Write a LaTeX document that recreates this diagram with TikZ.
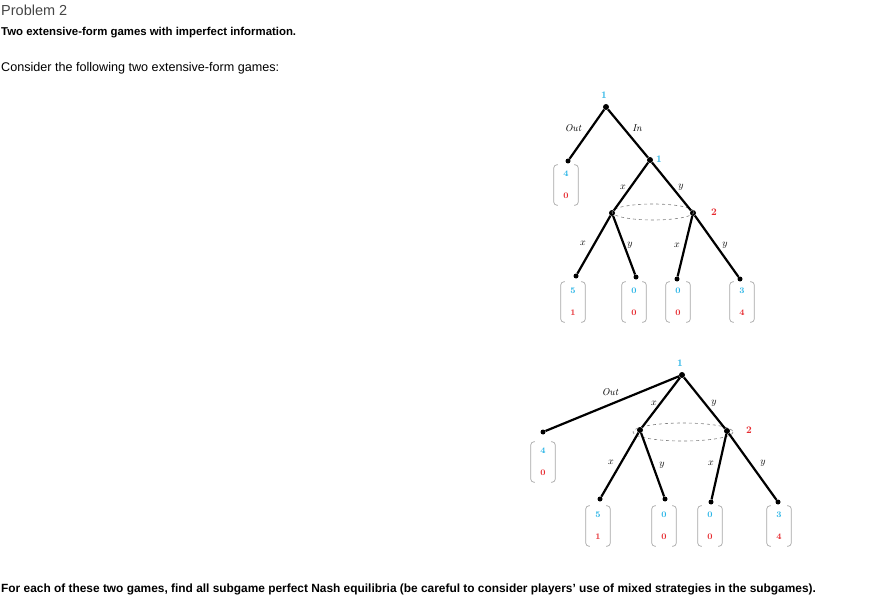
\documentclass[tikz,border=0pt]{standalone}
\usepackage{fontspec}
\setmainfont{Liberation Sans}
\newfontfamily\lmfont{Latin Modern Roman}
\usetikzlibrary{calc}
\definecolor{pone}{RGB}{40,180,230}
\definecolor{ptwo}{RGB}{230,40,45}
\definecolor{txtgray}{RGB}{70,70,70}
\newcommand{\payoff}[4]{%
  \node[minimum width=24pt,minimum height=40pt,inner sep=0pt] (#1) at #2 {};
  \node[text=pone,font=\lmfont\fontsize{8.5}{9}\selectfont\bfseries] at ($(#1)+(0,-11)$) {#3};
  \node[text=ptwo,font=\lmfont\fontsize{8.5}{9}\selectfont\bfseries] at ($(#1)+(0,11)$) {#4};
  \draw[gray!70,rounded corners=3pt,line width=0.7pt] ([xshift=4pt]#1.north west) -- (#1.north west) -- (#1.south west) -- ([xshift=4pt]#1.south west);
  \draw[gray!70,rounded corners=3pt,line width=0.7pt] ([xshift=-4pt]#1.north east) -- (#1.north east) -- (#1.south east) -- ([xshift=-4pt]#1.south east);
}
\tikzset{
  dec/.style={circle,fill=black,inner sep=0pt,minimum size=6pt},
  leaf/.style={circle,fill=black,inner sep=0pt,minimum size=5pt},
  br/.style={line width=2.2pt},
  lab/.style={font=\lmfont\fontsize{10}{11}\selectfont\itshape},
  pl1/.style={text=pone,font=\lmfont\fontsize{10}{11}\selectfont\bfseries},
  pl2/.style={text=ptwo,font=\lmfont\fontsize{10}{11}\selectfont\bfseries},
  info/.style={dashed,gray,line width=0.6pt}
}
\begin{document}
\begin{tikzpicture}[x=1pt,y=-1pt]
\useasboundingbox (0,0) rectangle (869,612);
\node[anchor=west,text=txtgray,font=\fontsize{14.5}{16}\selectfont,inner sep=1pt] (t1) at (0,10) {Problem 2};
\node[anchor=west,font=\fontsize{11.4}{13}\selectfont\bfseries,inner sep=1pt] (t2) at (0,33) {Two extensive-form games with imperfect information.};
\node[anchor=west,font=\fontsize{12.6}{14}\selectfont,inner sep=1pt] (t3) at (0,68) {Consider the following two extensive-form games:};
\node[anchor=west,font=\fontsize{11.9}{14}\selectfont\bfseries,inner sep=1pt] (t4) at (0,589) {For each of these two games, find all subgame perfect Nash equilibria (be careful to consider players' use of mixed strategies in the subgames).};

% Game 1
\node[dec] (r) at (606,107) {};
\node[pl1] at (604,95) {1};
\node[leaf] (o) at (568,161) {};
\node[dec] (n1) at (650,160) {};
\node[pl1] at (659,159) {1};
\node[dec] (a) at (612,213) {};
\node[dec] (b) at (693,213) {};
\node[pl2] at (714,212) {2};
\node[leaf] (l1) at (576,276) {};
\node[leaf] (l2) at (636,277) {};
\node[leaf] (l3) at (677,279) {};
\node[leaf] (l4) at (740,279) {};
\draw[info] (653,212) ellipse (41 and 8);
\draw[br] (r) -- (o) (r) -- (n1) (n1) -- (a) (n1) -- (b) (a) -- (l1) (a) -- (l2) (b) -- (l3) (b) -- (l4);
\node[lab] at (573,128) {Out};
\node[lab] at (637,128) {In};
\node[lab] at (623,187) {$x$};
\node[lab] at (681,187) {$y$};
\node[lab] at (583,243) {$x$};
\node[lab] at (630,245) {$y$};
\node[lab] at (677,245) {$x$};
\node[lab] at (725,245) {$y$};
\payoff{po}{(566,185)}{4}{0}
\payoff{p1}{(573,302)}{5}{1}
\payoff{p2}{(634,302)}{0}{0}
\payoff{p3}{(678,302)}{0}{0}
\payoff{p4}{(742,302)}{3}{4}

% Game 2
\node[dec] (R) at (682,375) {};
\node[pl1] at (680,363) {1};
\node[leaf] (O) at (543,432) {};
\node[dec] (A) at (640,430) {};
\node[dec] (B) at (727,431) {};
\node[pl2] at (749,430) {2};
\node[leaf] (L1) at (600,499) {};
\node[leaf] (L2) at (665,499) {};
\node[leaf] (L3) at (711,502) {};
\node[leaf] (L4) at (778,502) {};
\draw[info] (683,432) ellipse (50 and 9);
\draw[br] (R) -- (O) (R) -- (A) (R) -- (B) (A) -- (L1) (A) -- (L2) (B) -- (L3) (B) -- (L4);
\node[lab] at (610,392) {Out};
\node[lab] at (654,403) {$x$};
\node[lab] at (714,403) {$y$};
\node[lab] at (611,462) {$x$};
\node[lab] at (662,465) {$y$};
\node[lab] at (711,463) {$x$};
\node[lab] at (763,463) {$y$};
\payoff{PO}{(543,462)}{4}{0}
\payoff{P1}{(598,526)}{5}{1}
\payoff{P2}{(664,526)}{0}{0}
\payoff{P3}{(710,526)}{0}{0}
\payoff{P4}{(779,526)}{3}{4}
\end{tikzpicture}
\end{document}
